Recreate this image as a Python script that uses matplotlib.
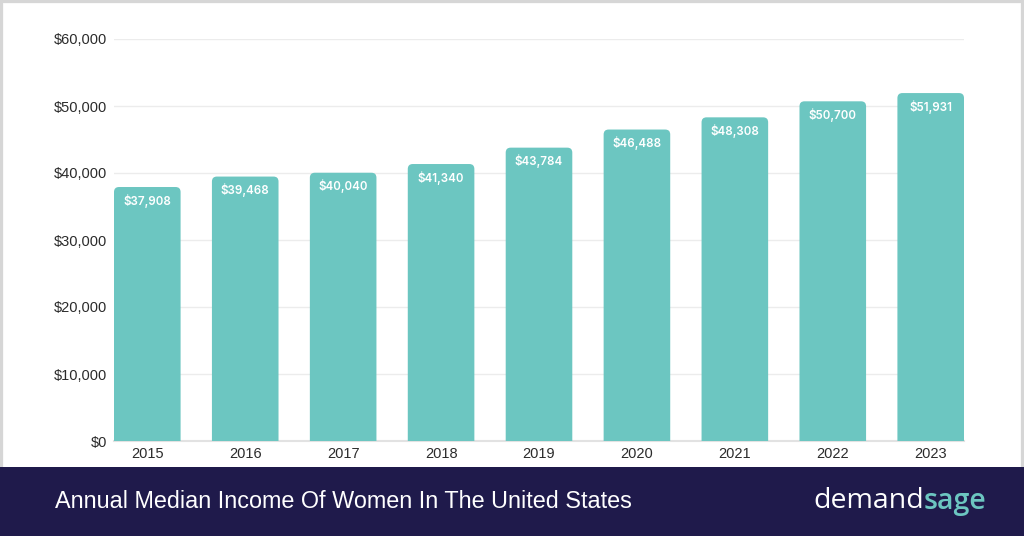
import matplotlib
matplotlib.use("Agg")
import matplotlib.pyplot as plt
from matplotlib.patches import FancyBboxPatch, Rectangle

years = ["2015", "2016", "2017", "2018", "2019", "2020", "2021", "2022", "2023"]
income = [37908, 39468, 40040, 41340, 43784, 46488, 48308, 50700, 51931]
yticks = [0, 10000, 20000, 30000, 40000, 50000, 60000]

BAR = "#6cc6c1"
NAVY = "#1f1a4b"
W, H = 1024, 536

fig = plt.figure(figsize=(W / 100, H / 100), dpi=100)
fig.patch.set_facecolor("white")

# outer light grey frame and bottom banner
fig.add_artist(Rectangle((0, 0), 1, 1, transform=fig.transFigure, fill=False,
                         edgecolor="#d6d6d6", linewidth=4.5))
fig.add_artist(Rectangle((0, 0), 1, 69 / H, transform=fig.transFigure,
                         facecolor=NAVY, edgecolor="none", zorder=5))

ax = fig.add_axes([114 / W, 95 / H, 850 / W, 402 / H])
ax.set_facecolor("white")
bw = 0.68
ax.set_xlim(-bw / 2, len(years) - 1 + bw / 2)
ax.set_ylim(0, 60000)

# pixel scales for rounded corners
px_x = 1 / 98.0
px_y = 60000 / 402.0
r = 5 * px_x
aspect = px_y / px_x

for i, v in enumerate(income):
    p = FancyBboxPatch((i - bw / 2, -2000), bw, v + 2000,
                       boxstyle=f"round,pad=0,rounding_size={r}",
                       mutation_aspect=aspect, facecolor=BAR,
                       edgecolor="none", zorder=3)
    ax.add_patch(p)
    ax.text(i, v - 13.5 * px_y, f"${v:,}", ha="center", va="center",
            color="white", fontsize=8.3, fontweight="semibold",
            family="Inter", zorder=4)

ax.set_yticks(yticks)
ax.set_yticklabels([f"${t:,}" for t in yticks])
ax.set_xticks(range(len(years)))
ax.set_xticklabels(years)
ax.grid(axis="y", color="#ececec", linewidth=1, zorder=0)
for s in ["top", "right", "left"]:
    ax.spines[s].set_visible(False)
ax.spines["bottom"].set_color("#e2e2e2")
ax.spines["bottom"].set_linewidth(1.5)
ax.tick_params(axis="both", length=0, labelsize=10.5, colors="#2b2b2b")
ax.tick_params(axis="y", pad=5)
ax.tick_params(axis="x", pad=4)
for lab in ax.get_xticklabels() + ax.get_yticklabels():
    lab.set_family("Liberation Sans")

fig.text(55 / W, 34 / H, "Annual Median Income Of Women In The United States",
         color="white", fontsize=16.8, family="Liberation Sans",
         ha="left", va="center", zorder=6)
t1 = fig.text(813 / W, 35 / H, "demand", color="white", fontsize=20.5,
              family="Open Sans", ha="left", va="center", zorder=6)
fig.canvas.draw()
bb = t1.get_window_extent()
fig.text(bb.x1 / W, 35 / H, "sage", color=BAR, fontsize=20.5, family="Open Sans",
         fontweight="semibold", ha="left", va="center", zorder=6)

fig.savefig("out.png", dpi=100, facecolor=fig.get_facecolor())
